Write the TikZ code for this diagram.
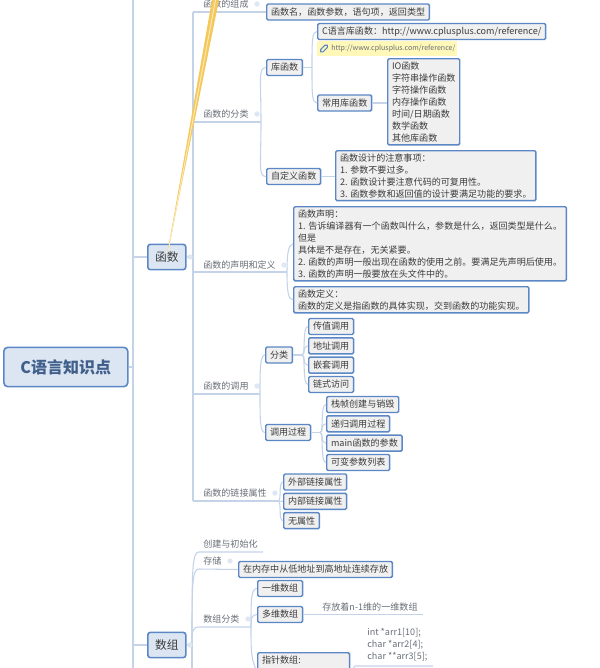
\documentclass[tikz,border=0pt]{standalone}
\usepackage{fontspec}
\setmainfont{Noto Sans CJK SC}
\usepackage{xcolor}
\usetikzlibrary{arrows.meta,positioning,calc}
\definecolor{mapblue}{RGB}{91,135,197}
\definecolor{rootfill}{RGB}{220,230,243}
\definecolor{leaffill}{RGB}{240,240,240}
\definecolor{linkblue}{RGB}{196,211,232}
\definecolor{darktext}{RGB}{60,60,60}
\definecolor{labeltext}{RGB}{105,110,118}
\definecolor{notefill}{RGB}{255,248,184}
\definecolor{bandyellow}{RGB}{244,200,90}

\begin{document}
\begin{tikzpicture}[
    x=0.75pt, y=-0.75pt,
    rootbox/.style={draw=mapblue, line width=1.2pt, rounded corners=3pt, fill=rootfill, anchor=west, minimum width=93pt, minimum height=29.5pt, inner sep=0pt, font=\fontsize{12}{15}\selectfont\bfseries, text=mapblue!70!black},
    mainbox/.style={draw=mapblue, line width=1.2pt, rounded corners=2pt, fill=rootfill, anchor=west, minimum width=28.5pt, minimum height=19pt, inner sep=0pt, font=\fontsize{8.8}{12}\selectfont, text=darktext},
    leaf/.style={draw=mapblue, line width=1.1pt, rounded corners=1pt, fill=leaffill, anchor=west, minimum height=12pt, inner xsep=3.2pt, inner ysep=0pt, font=\fontsize{6.8}{9}\selectfont, text=darktext},
    textbox/.style={leaf, align=left, inner ysep=2pt, font=\fontsize{6.8}{9.05}\selectfont},
    branch/.style={anchor=west, inner sep=0pt, font=\fontsize{6.8}{9}\selectfont, text=labeltext},
    plain/.style={anchor=west, inner sep=0pt, align=left, font=\fontsize{6.8}{9}\selectfont, text=labeltext},
    link/.style={draw=linkblue, line width=0.8pt},
    dotmark/.style={circle, fill=linkblue!55, inner sep=0pt, minimum size=4pt}
]
\clip (0,0) rectangle (600,668);
\useasboundingbox (0,0) rectangle (600,668);

% trunk lines
\coordinate (trunktop) at (133,0);
\coordinate (trunkbottom) at (133,668);
\draw[link] (trunktop) -- (trunkbottom);
\coordinate (funcspine) at (193,12);
\coordinate (funcfoot) at (193,501);
\draw[link] (funcspine) -- (funcfoot);

% root and the two main topics
\node[rootbox] (root) at (3,367) {C语言知识点};
\node[mainbox] (func) at (147,257) {函数};
\node[mainbox] (arr) at (147,645) {数组};
\draw[link] (root.east) -- (133,367);
\draw[link] (133,257) -- (func.west);
\draw[link] (133,645) -- (arr.west);
\draw[link] (func.east) -- (193,257);

% function branch
\node[branch] (parts) at (203,4) {函数的组成};
\node[branch] (kinds) at (203,114) {函数的分类};
\node[branch] (decl) at (203,265) {函数的声明和定义};
\node[branch] (calls) at (203,386) {函数的调用};
\node[branch] (linkage) at (203,493) {函数的链接属性};

\node[leaf] (partsbox) at (266,12) {函数名，函数参数，语句项，返回类型};
\node[leaf] (libfunc) at (266,67.5) {库函数};
\node[leaf] (selffunc) at (266,176.5) {自定义函数};
\node[leaf] (cref) at (317,31.5) {C语言库函数：http://www.cplusplus.com/reference/};
\node[anchor=west, fill=notefill, minimum width=104.5pt, minimum height=11.5pt, inner sep=0pt] (note) at (317,48.5) {};
\node[anchor=west, inner sep=0pt, font=\fontsize{5.3}{7}\selectfont, text=labeltext] (noteurl) at (331,48.5) {http://www.cplusplus.com/reference/};
\node[draw=mapblue, line width=0.9pt, rounded corners=1.2pt, rotate=45, minimum width=7pt, minimum height=2.5pt, inner sep=0pt] (clipicon) at (324,48.5) {};
\node[leaf] (common) at (317,103) {常用库函数};
\node[textbox, anchor=north west] (commonlist) at (387,58) {IO函数\\字符串操作函数\\字符操作函数\\内存操作函数\\时间/日期函数\\数学函数\\其他库函数};
\node[textbox, anchor=north west] (advice) at (335,150) {函数设计的注意事项：\\1. 参数不要过多。\\2. 函数设计要注意代码的可复用性。\\3. 函数参数和返回值的设计要满足功能的要求。};
\node[textbox, anchor=north west] (declbox) at (293,206) {函数声明：\\1. 告诉编译器有一个函数叫什么，参数是什么，返回类型是什么。\\但是\\具体是不是存在，无关紧要。\\2. 函数的声明一般出现在函数的使用之前。要满足先声明后使用。\\3. 函数的声明一般要放在头文件中的。};
\node[textbox, anchor=north west] (defbox) at (293,286) {函数定义：\\函数的定义是指函数的具体实现，交到函数的功能实现。};

\node[leaf] (sort) at (265,355) {分类};
\node[leaf] (byval) at (308,326.5) {传值调用};
\node[leaf, below=1.4pt of byval.south west, anchor=north west] (byaddr) {地址调用};
\node[leaf, below=1.4pt of byaddr.south west, anchor=north west] (nested) {嵌套调用};
\node[leaf, below=1.4pt of nested.south west, anchor=north west] (chain) {链式访问};
\node[leaf] (process) at (265,432.5) {调用过程};
\node[leaf] (frame) at (326,404.5) {栈帧创建与销毁};
\node[leaf, below=1.4pt of frame.south west, anchor=north west] (recur) {递归调用过程};
\node[leaf, below=1.4pt of recur.south west, anchor=north west] (mainarg) {main函数的参数};
\node[leaf, below=1.4pt of mainarg.south west, anchor=north west] (vararg) {可变参数列表};
\node[leaf] (extern) at (283,482) {外部链接属性};
\node[leaf, below=1.4pt of extern.south west, anchor=north west] (intern) {内部链接属性};
\node[leaf, below=1.4pt of intern.south west, anchor=north west] (noattr) {无属性};

% array branch
\node[branch] (create) at (203,544) {创建与初始化};
\node[branch] (store) at (203,561) {存储};
\node[branch] (sorts) at (203,619) {数组分类};
\node[leaf] (storebox) at (238,569.5) {在内存中从低地址到高地址连续存放};
\node[leaf] (onedim) at (257,588.5) {一维数组};
\node[leaf] (multi) at (257,614.5) {多维数组};
\node[plain] (multinote) at (322,607) {存放着n-1维的一维数组};
\node[textbox, anchor=north west, text width=62.5pt] (ptrarr) at (257,652) {指针数组:\\\mbox{}\\\mbox{}};
\node[plain] (ptrcode) at (367,645) {int *arr1[10];\\char *arr2[4];\\char **arr3[5];};

% underlines and branch curves
\draw[link] (193,12) -- (partsbox.west);
\draw[link] (193,122) -- (261,122);
\draw[link] (261,122) .. controls (261,80) and (258,67.5) .. (libfunc.west);
\draw[link] (261,122) .. controls (261,165) and (258,176.5) .. (selffunc.west);
\draw[link] (libfunc.east) -- (312,67.5);
\draw[link] (312,67.5) .. controls (312,40) and (312,31.5) .. (cref.west);
\draw[link] (312,67.5) .. controls (312,95) and (312,103) .. (common.west);
\draw[link] (common.east) -- (commonlist.west |- common.east);
\draw[link] (selffunc.east) -- (advice.west |- selffunc.east);
\draw[link] (193,272) -- (287,272);
\draw[link] (287,272) .. controls (287,255) and (288,245) .. (declbox.west);
\draw[link] (287,272) .. controls (287,290) and (288,300) .. (defbox.west);
\draw[link] (193,394) -- (260,394);
\draw[link] (260,394) .. controls (260,370) and (260,355) .. (sort.west);
\draw[link] (260,394) .. controls (260,420) and (260,432.5) .. (process.west);
\draw[link] (sort.east) -- (302,355);
\foreach \kid in {byval,byaddr,nested,chain}
  \draw[link] (302,355) .. controls (306,355) and (302,0 |- \kid.west) .. (\kid.west);
\draw[link] (process.east) -- (320,432.5);
\foreach \kid in {frame,recur,mainarg,vararg}
  \draw[link] (320,432.5) .. controls (324,432.5) and (320,0 |- \kid.west) .. (\kid.west);
\draw[link] (193,501) -- (278,501);
\foreach \kid in {extern,intern,noattr}
  \draw[link] (278,501) .. controls (282,501) and (278,0 |- \kid.west) .. (\kid.west);
\draw[link] (arr.east) -- (192,645);
\draw[link] (192,645) .. controls (192,570) and (192,552) .. (199,552) -- (263,552);
\draw[link] (192,645) .. controls (192,585) and (192,569) .. (199,569) -- (storebox.west);
\draw[link] (192,645) .. controls (192,632) and (192,627) .. (199,627) -- (251,627);
\draw[link] (192,645) -- (192,668);
\draw[link] (251,627) .. controls (251,600) and (251,588.5) .. (onedim.west);
\draw[link] (251,627) .. controls (251,620) and (251,614.5) .. (multi.west);
\draw[link] (251,627) .. controls (251,650) and (251,660) .. (ptrarr.west);
\draw[link] (multi.east) -- (310,614.5) -- (423,614.5);
\draw[link] (ptrarr.east) -- (355,666) -- (433,666);

% collapse marks
\foreach \mx/\my [count=\i] in {257/4,257/114,284/265,257/386,275/493,190/257,230/561,248/619,190/645}
  \node[dotmark] (mark\i) at (\mx,\my) {};

% yellow band
\fill[bandyellow] (168,252) -- (167.5,252) -- (212,0) -- (219,0) -- cycle;
\draw[white!60!bandyellow, line width=0.7pt] (168,252) -- (215.5,0);
\end{tikzpicture}
\end{document}
